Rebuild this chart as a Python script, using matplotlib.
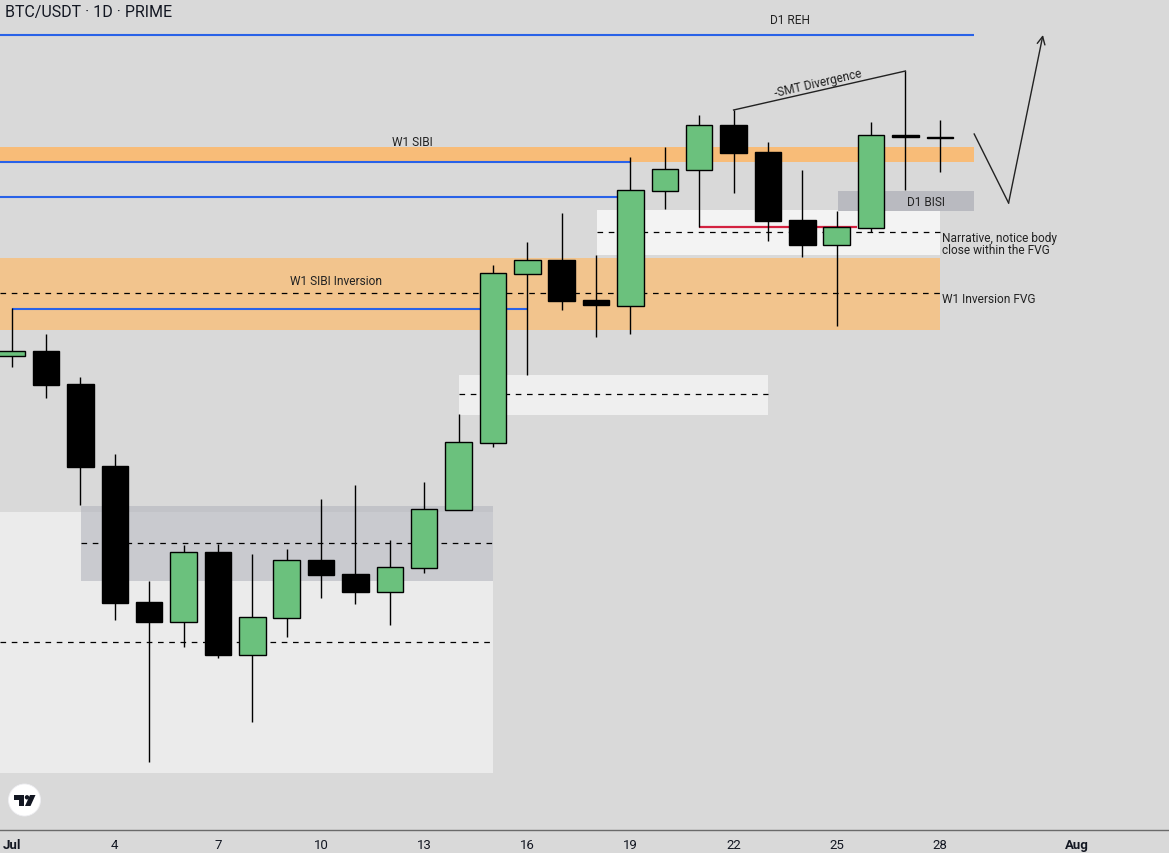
import matplotlib
matplotlib.use('Agg')
import matplotlib.pyplot as plt
from matplotlib.patches import Rectangle, Circle, Polygon

plt.rcParams['font.family'] = ['Roboto', 'DejaVu Sans']

# vertical scale is the chart's own row position, top of pane = 0
days = list(range(1, 29))
opens = [355.5, 351, 384, 466, 602, 621.5, 552, 654.5, 617.5, 560, 574, 591.5, 567.5, 509.5, 442.5, 273.5,
         260, 300, 305.5, 190.5, 169.5, 125, 152, 220, 244.5, 227.5, 135, 136.5]
closes = [351, 384.5, 466.5, 602.5, 621.5, 552, 654.5, 617, 560, 574.5, 591.5, 567, 509, 442, 273, 260,
          300.5, 304.5, 190, 169, 125, 152.5, 220.5, 244.5, 227, 135, 136.5, 138]
highs = [308, 334, 377, 454, 581, 545, 544, 554, 549, 499, 485, 540, 482, 414, 265, 242,
         213, 255, 157, 147, 115, 110, 142, 170, 211, 122, 71, 120]
lows = [367, 398, 505, 620, 762, 647, 658, 722, 637, 598, 604, 625, 573, 510, 447, 375,
        310, 337, 334, 209, 227, 193, 241, 257, 326, 232, 190, 172]

# zones: start day, end day, top, bottom
zone_w1_sibi = [0.65, 29, 147, 162]
zone_inversion = [0.65, 28, 258, 330]
zone_d1_bisi = [25.03, 29, 191, 211]
zone_narrative = [18.02, 28, 210, 255]
zone_mid = [14, 23, 375, 415]
zone_low_white = [0.65, 15, 512, 773]
zone_low_gray = [3.02, 15, 506, 581]

# dashed levels: start day, end day, level
dashes = [[0.65, 15, 642], [3.02, 15, 543], [0.65, 28, 293], [18.02, 28, 232], [14, 23, 394]]
# blue levels
blue_lines = [[0.65, 29, 35], [0.65, 19, 162], [0.65, 19, 197], [1, 16, 309]]
red_line = [21, 25.6, 227]

smt_x = [22, 27]
smt_y = [110, 71]
path_x = [29, 30, 31]
path_y = [134, 203, 35]

tick_days = [1, 4, 7, 10, 13, 16, 19, 22, 25, 28, 32]
tick_labels = ['Jul', '4', '7', '10', '13', '16', '19', '22', '25', '28', 'Aug']

BG = '#d9d9d9'
GREEN = '#6bc17d'

fig = plt.figure(figsize=(11.69, 8.54), dpi=100, facecolor=BG)
ax = fig.add_axes([0, 23 / 854, 1, 831 / 854], facecolor=BG)
ax.set_xlim(1 - 11.7 / 34.375, 1 + 1157.3 / 34.375)
ax.set_ylim(830, -1)


def zone(z, color, alpha=1.0):
    ax.add_patch(Rectangle((z[0], z[2]), z[1] - z[0], z[3] - z[2], facecolor=color,
                           edgecolor='none', alpha=alpha, zorder=1))


zone(zone_low_white, '#ebebeb')
zone(zone_low_gray, '#b5b7bf', 0.62)
zone(zone_mid, '#efefef')
zone(zone_inversion, '#f2c48d')
zone(zone_narrative, '#f3f3f3')
zone(zone_w1_sibi, '#f8bc78')
zone(zone_d1_bisi, '#b9bac0')

for d in dashes:
    ax.plot(d[:2], [d[2], d[2]], color='black', lw=0.9, dashes=(4.5, 4.5), zorder=2)
for b in blue_lines:
    ax.plot(b[:2], [b[2], b[2]], color='#2962e8', lw=1.5, zorder=2, solid_capstyle='butt')
ax.plot(red_line[:2], [red_line[2], red_line[2]], color='#d3213f', lw=1.6, zorder=2,
        solid_capstyle='butt')

ax.plot(smt_x, smt_y, color='#222222', lw=1, zorder=2)
ax.annotate('', xy=(path_x[2], path_y[2]), xytext=(path_x[1], path_y[1]),
            arrowprops=dict(arrowstyle='->', color='#222222', lw=1, mutation_scale=14,
                            shrinkA=0, shrinkB=0), zorder=2)
ax.plot(path_x[:2], path_y[:2], color='#222222', lw=1, zorder=2)

# candles
for d, o, c, h, l in zip(days, opens, closes, highs, lows):
    up = c < o
    ax.plot([d, d], [h, l], color='black', lw=1, zorder=3, solid_capstyle='butt')
    top, bot = min(o, c), max(o, c)
    ax.add_patch(Rectangle((d - 0.385, top), 0.77, bot - top, facecolor=GREEN if up else 'black',
                           edgecolor='black', lw=1, zorder=4))

txt = dict(fontsize=8.6, color='#222222', zorder=5)
ax.text(23.65, 20, 'D1 REH', ha='center', va='center', **txt)
ax.text(12.66, 142, 'W1 SIBI', ha='center', va='center', **txt)
ax.text(10.43, 281, 'W1 SIBI Inversion', ha='center', va='center', **txt)
ax.text(27.61, 201, 'D1 BISI', ha='center', va='center', **txt)
ax.text(28.05, 299, 'W1 Inversion FVG', ha='left', va='center', **txt)
ax.text(28.05, 243.5, 'Narrative, notice body\nclose within the FVG', ha='left', va='center',
        linespacing=0.95, **txt)
ax.text(24.46, 83, '-SMT Divergence', ha='center', va='center', rotation=13,
        rotation_mode='anchor', **txt)
ax.text(1 - 6.7 / 34.375, 12, 'BTC/USDT · 1D · PRIME', ha='left', va='center',
        fontsize=11.5, color='#131722', zorder=5)

ax.set_xticks(tick_days)
ax.set_xticklabels(tick_labels, fontsize=9.5, color='#131722')
for lab in ax.get_xticklabels():
    if lab.get_text() in ('Jul', 'Aug'):
        lab.set_fontweight('bold')
ax.tick_params(axis='x', length=0, pad=5.8)
ax.set_yticks([])
for side in ['top', 'left', 'right']:
    ax.spines[side].set_visible(False)
ax.spines['bottom'].set_color('#6a6a6a')
ax.spines['bottom'].set_linewidth(1)

# logo badge, drawn in pixels of its own little axes
logo = fig.add_axes([5 / 1169, 1 - 821 / 854, 40 / 1169, 40 / 854])
logo.set_xlim(5, 45)
logo.set_ylim(821, 781)
logo.axis('off')
logo.add_patch(Circle((24.5, 801), 16, facecolor='white', edgecolor='#eeeef2', lw=0.6))
logo.add_patch(Polygon([(14, 796), (23.5, 796), (23.5, 807), (19, 807), (19, 800.5), (14, 800.5)],
                       facecolor='#131722'))
logo.add_patch(Circle((27, 798.3), 2.2, facecolor='#131722'))
logo.add_patch(Polygon([(30, 796), (35.5, 796), (30.5, 807), (25, 807)], facecolor='#131722'))

fig.savefig('out.png', dpi=100, facecolor=BG)
